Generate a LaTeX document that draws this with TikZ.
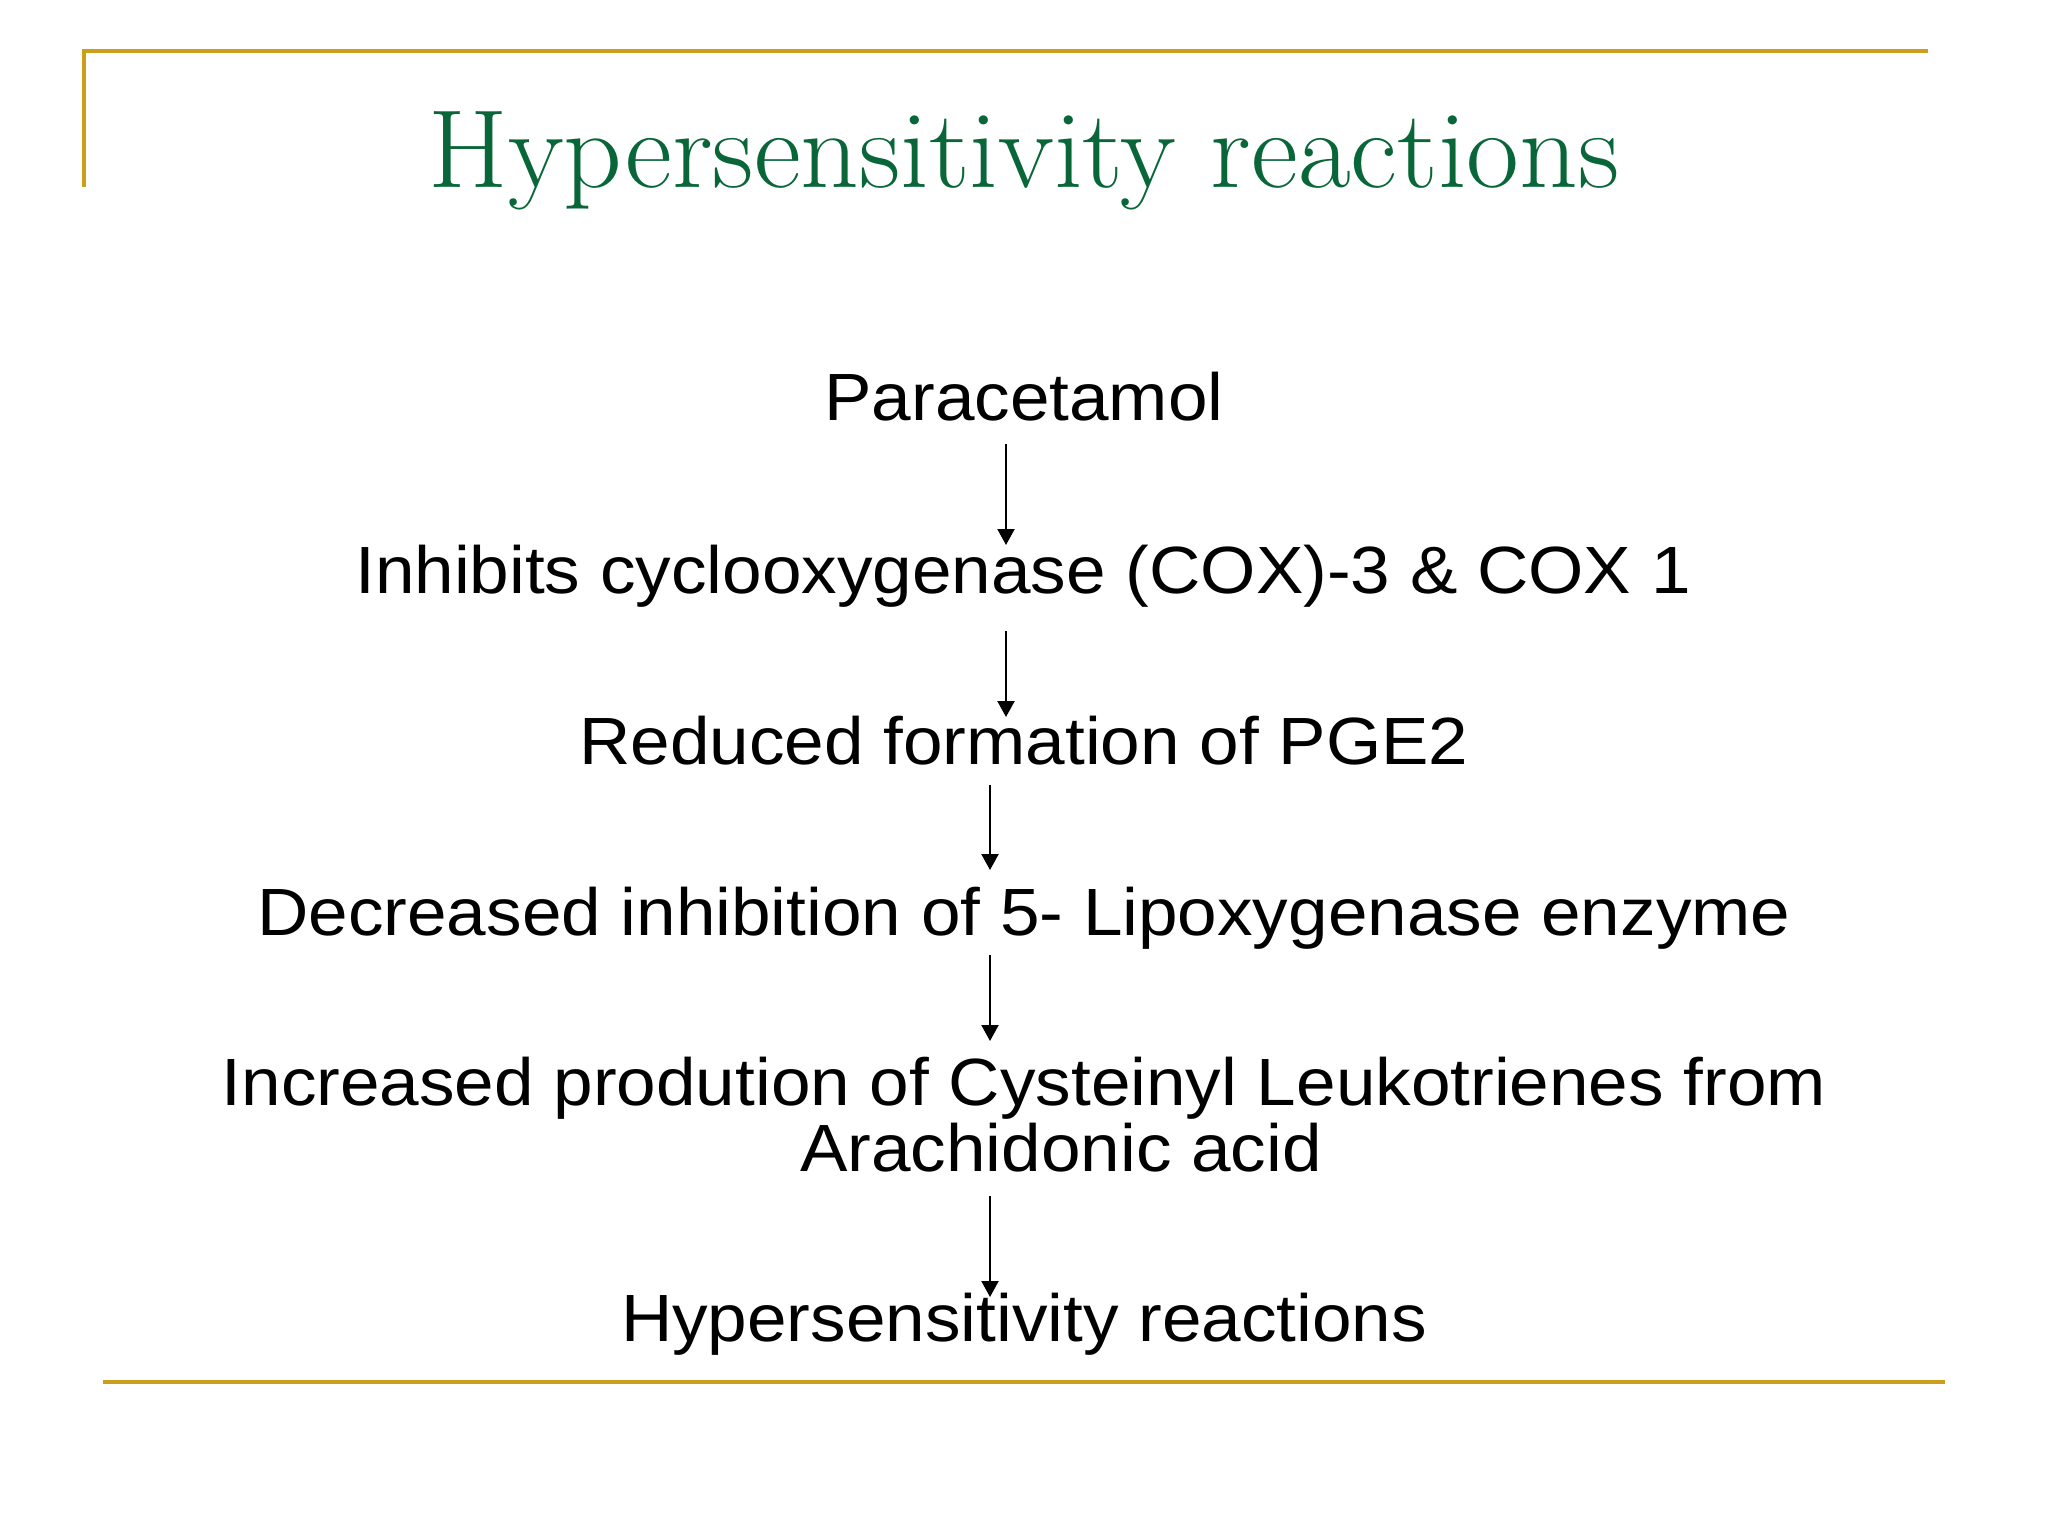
\documentclass[tikz,border=0pt]{standalone}
\usepackage{fontspec}
\usepackage{graphicx}
\setsansfont{Liberation Sans}
\usetikzlibrary{arrows.meta}
\definecolor{gold}{RGB}{204,158,28}
\definecolor{titlegreen}{RGB}{8,102,56}
\newcommand{\stretchtxt}[1]{\scalebox{1.064}[1]{#1}}
\tikzset{
  rule/.style={draw=gold, line width=0.04cm},
  stepnode/.style={anchor=base, inner sep=0pt, font=\sffamily\fontsize{19}{18.9}\selectfont},
  arr/.style={draw=black, line width=0.022cm, -{Triangle[width=0.17cm,length=0.16cm]}}
}
\begin{document}
\begin{tikzpicture}[x=0.01cm,y=-0.01cm]
\useasboundingbox[fill=white] (0,0) rectangle (2048,1536);
% frame rules
\draw[rule] (84,187) -- (84,51) -- (1928,51);
\draw[rule] (103,1382) -- (1945,1382);
% title
\node[anchor=base, inner sep=0pt, text=titlegreen, font=\fontsize{31.6}{32}\selectfont] (title) at (1024,187) {\scalebox{1.033}[1]{Hypersensitivity reactions}};
% steps
\node[stepnode] (p) at (1024,420.6) {\stretchtxt{Paracetamol}};
\node[stepnode] (i) at (1023,593) {\stretchtxt{Inhibits cyclooxygenase (COX)-3 \& COX 1}};
\node[stepnode] (r) at (1024,764) {\stretchtxt{Reduced formation of PGE2}};
\node[stepnode] (d) at (1024,935) {\stretchtxt{Decreased inhibition of 5- Lipoxygenase enzyme}};
\node[stepnode] (c) at (1024,1105) {\stretchtxt{Increased prodution of Cysteinyl Leukotrienes from}};
\node[stepnode] (a) at (1061,1171.5) {\stretchtxt{Arachidonic acid}};
\node[stepnode] (h) at (1024,1341) {\stretchtxt{Hypersensitivity reactions}};
% arrows
\draw[arr] ([shift={(-18,23)}]p.base) -- ([shift={(-17,-48)}]i.base);
\draw[arr] ([shift={(-17,38)}]i.base) -- ([shift={(-18,-47)}]r.base);
\draw[arr] ([shift={(-34,21)}]r.base) -- ([shift={(-34,-65)}]d.base);
\draw[arr] ([shift={(-34,20)}]d.base) -- ([shift={(-34,-64)}]c.base);
\draw[arr] ([shift={(-71,24)}]a.base) -- ([shift={(-34,-44)}]h.base);
\end{tikzpicture}
\end{document}
